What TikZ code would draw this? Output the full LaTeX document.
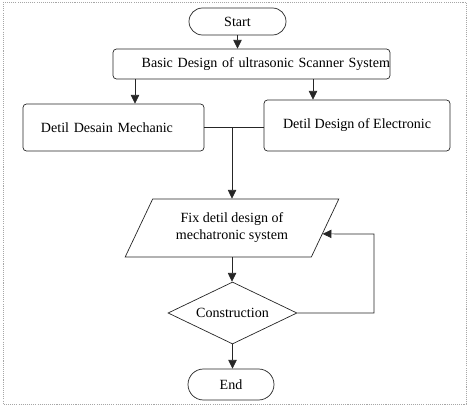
\documentclass[tikz,border=0pt]{standalone}
\usepackage{fontspec}
\setmainfont{Liberation Serif}
\usetikzlibrary{shapes.geometric, shapes.misc, arrows.meta, calc}
\tikzset{
  term/.style     = {draw, rounded rectangle, minimum width=2.91cm,
                     minimum height=0.81cm, inner sep=0pt},
  box/.style      = {draw, rounded corners=3pt, inner sep=0pt},
  io/.style       = {draw, trapezium, trapezium left angle=57,
                     trapezium right angle=123, trapezium stretches=true,
                     minimum width=6.42cm, minimum height=1.74cm,
                     align=center, inner sep=0pt},
  decision/.style = {draw, diamond, aspect=2.1, minimum width=3.87cm,
                     minimum height=1.86cm, inner sep=0pt},
  flow/.style     = {-{Triangle[length=2.6mm, width=2.5mm]}, draw=black!85}
}

\begin{document}
\begin{tikzpicture}[font=\fontsize{12}{14.5}\selectfont, line width=0.6pt,
                    draw=black!85]
\useasboundingbox (0,0) rectangle (14.22,-12.33);
% frame
\draw[gray!70, line width=0.8pt, dash pattern=on 0.9pt off 0.9pt]
  (0.09,-0.06) rectangle (13.98,-12.12);

% Blocks
\node[term] (start) at (7.125,-0.645) {Start};
\node[box, text width=8.31cm, minimum height=0.9cm, align=right]
  (basic) at (7.545,-1.92) {Basic Design of ultrasonic Scanner System};
\node[box, text width=4.35cm, inner xsep=0.54cm, minimum height=1.41cm,
  align=left] (mech) at (3.405,-3.825) {Detil Desain Mechanic};
\node[box, minimum width=5.58cm, minimum height=1.53cm]
  (elec) at (10.71,-3.765) {Detil Design of Electronic};
\node[io] (fix) at (6.96,-6.84) {Fix detil design of\\mechatronic system};
\node[decision] (cons) at (6.975,-9.39) {Construction};
\node[term, minimum width=2.58cm, minimum height=0.93cm]
  (stop) at (6.93,-11.535) {End};

% Connectors
\draw[flow] (start.south) -- (start.south |- basic.north);
\draw[flow] ([xshift=0.645cm]mech.north |- basic.south)
  -- ([xshift=0.645cm]mech.north);
\draw[flow] ([xshift=-1.32cm]elec.north |- basic.south)
  -- ([xshift=-1.32cm]elec.north);
\draw (mech.east) -- (mech.east -| elec.west);
\draw[flow] (fix.north |- mech.east) -- (fix.north);
\draw[flow] (fix.south) -- (fix.south |- cons.north);
\draw[flow] (cons.south) -- (cons.south |- stop.north);
\coordinate (back) at (11.22,-7.02);
\draw[flow] (cons.east) -| (back)
  -- ($(fix.top right corner)!0.6!(fix.bottom right corner)$);
\end{tikzpicture}
\end{document}
